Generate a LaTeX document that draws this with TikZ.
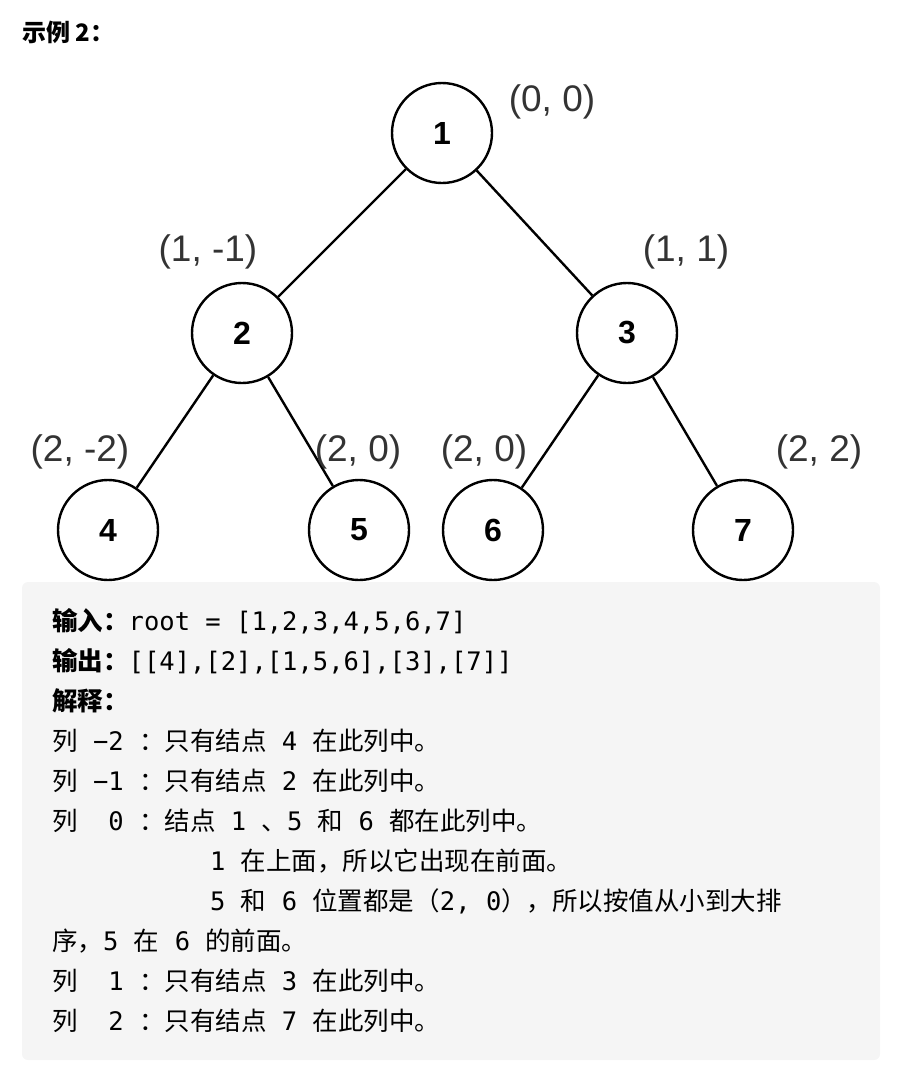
\documentclass[tikz,border=0pt]{standalone}
\usepackage{fontspec}
\setmainfont{Liberation Sans}
\setmonofont{DejaVu Sans Mono}
\newfontfamily\cjk{Noto Sans CJK SC}
\newcommand{\C}[1]{{\cjk #1}}
\begin{document}
\begin{tikzpicture}[x=1pt,y=-1pt,
  tn/.style={circle,draw,line width=2.4pt,minimum size=100pt,inner sep=0pt,font=\fontsize{32}{34}\selectfont\bfseries},
  lb/.style={font=\fontsize{37}{39}\selectfont,text=black!80},
  ln/.style={anchor=west,inner sep=0pt,font=\fontsize{25.5}{27}\selectfont\ttfamily},
  ed/.style={line width=2.4pt}]
\useasboundingbox (0,0) rectangle (904,1080);
\node[anchor=west,inner sep=0pt,font=\fontsize{24}{26}\selectfont\cjk\bfseries] (t) at (22,32) {示例 2：};
\node[tn] (n1) at (442,133) {1};
\node[tn] (n2) at (242,333) {2};
\node[tn] (n3) at (627,333) {3};
\node[tn] (n4) at (108,530) {4};
\node[tn] (n5) at (359,530) {5};
\node[tn] (n6) at (493,530) {6};
\node[tn] (n7) at (743,530) {7};
\draw[ed] (n1) -- (n2); \draw[ed] (n1) -- (n3);
\draw[ed] (n2) -- (n4); \draw[ed] (n2) -- (n5);
\draw[ed] (n3) -- (n6); \draw[ed] (n3) -- (n7);
\node[lb] (l1) at (552,102) {(0, 0)};
\node[lb] (l2) at (208,252) {(1, -1)};
\node[lb] (l3) at (686,252) {(1, 1)};
\node[lb] (l4) at (80,452) {(2, -2)};
\node[lb] (l5) at (358,452) {(2, 0)};
\node[lb] (l6) at (484,452) {(2, 0)};
\node[lb] (l7) at (819,452) {(2, 2)};
\fill[fill=black!4,rounded corners=6pt] (22,582) rectangle (880,1060);
\node[ln] (a1) at (52,621) {\C{\bfseries 输入：}root = [1,2,3,4,5,6,7]};
\node[ln] (a2) at (52,661) {\C{\bfseries 输出：}[[4],[2],[1,5,6],[3],[7]]};
\node[ln] (a3) at (52,701) {\C{\bfseries 解释：}};
\node[ln] (a4) at (52,741) {\C{列} −2 \C{：}\C{只有结点} 4 \C{在此列中。}};
\node[ln] (a5) at (52,781) {\C{列} −1 \C{：}\C{只有结点} 2 \C{在此列中。}};
\node[ln] (a6) at (52,821) {\C{列}\ \ 0 \C{：}\C{结点} 1 \C{、}5 \C{和} 6 \C{都在此列中。}};
\node[ln] (a7) at (210,861) {1 \C{在上面，所以它出现在前面。}};
\node[ln] (a8) at (210,901) {5 \C{和} 6 \C{位置都是（}2, 0\C{），所以按值从小到大排}};
\node[ln] (a9) at (52,941) {\C{序，}5 \C{在} 6 \C{的前面。}};
\node[ln] (a10) at (52,981) {\C{列}\ \ 1 \C{：}\C{只有结点} 3 \C{在此列中。}};
\node[ln] (a11) at (52,1021) {\C{列}\ \ 2 \C{：}\C{只有结点} 7 \C{在此列中。}};
\end{tikzpicture}
\end{document}
